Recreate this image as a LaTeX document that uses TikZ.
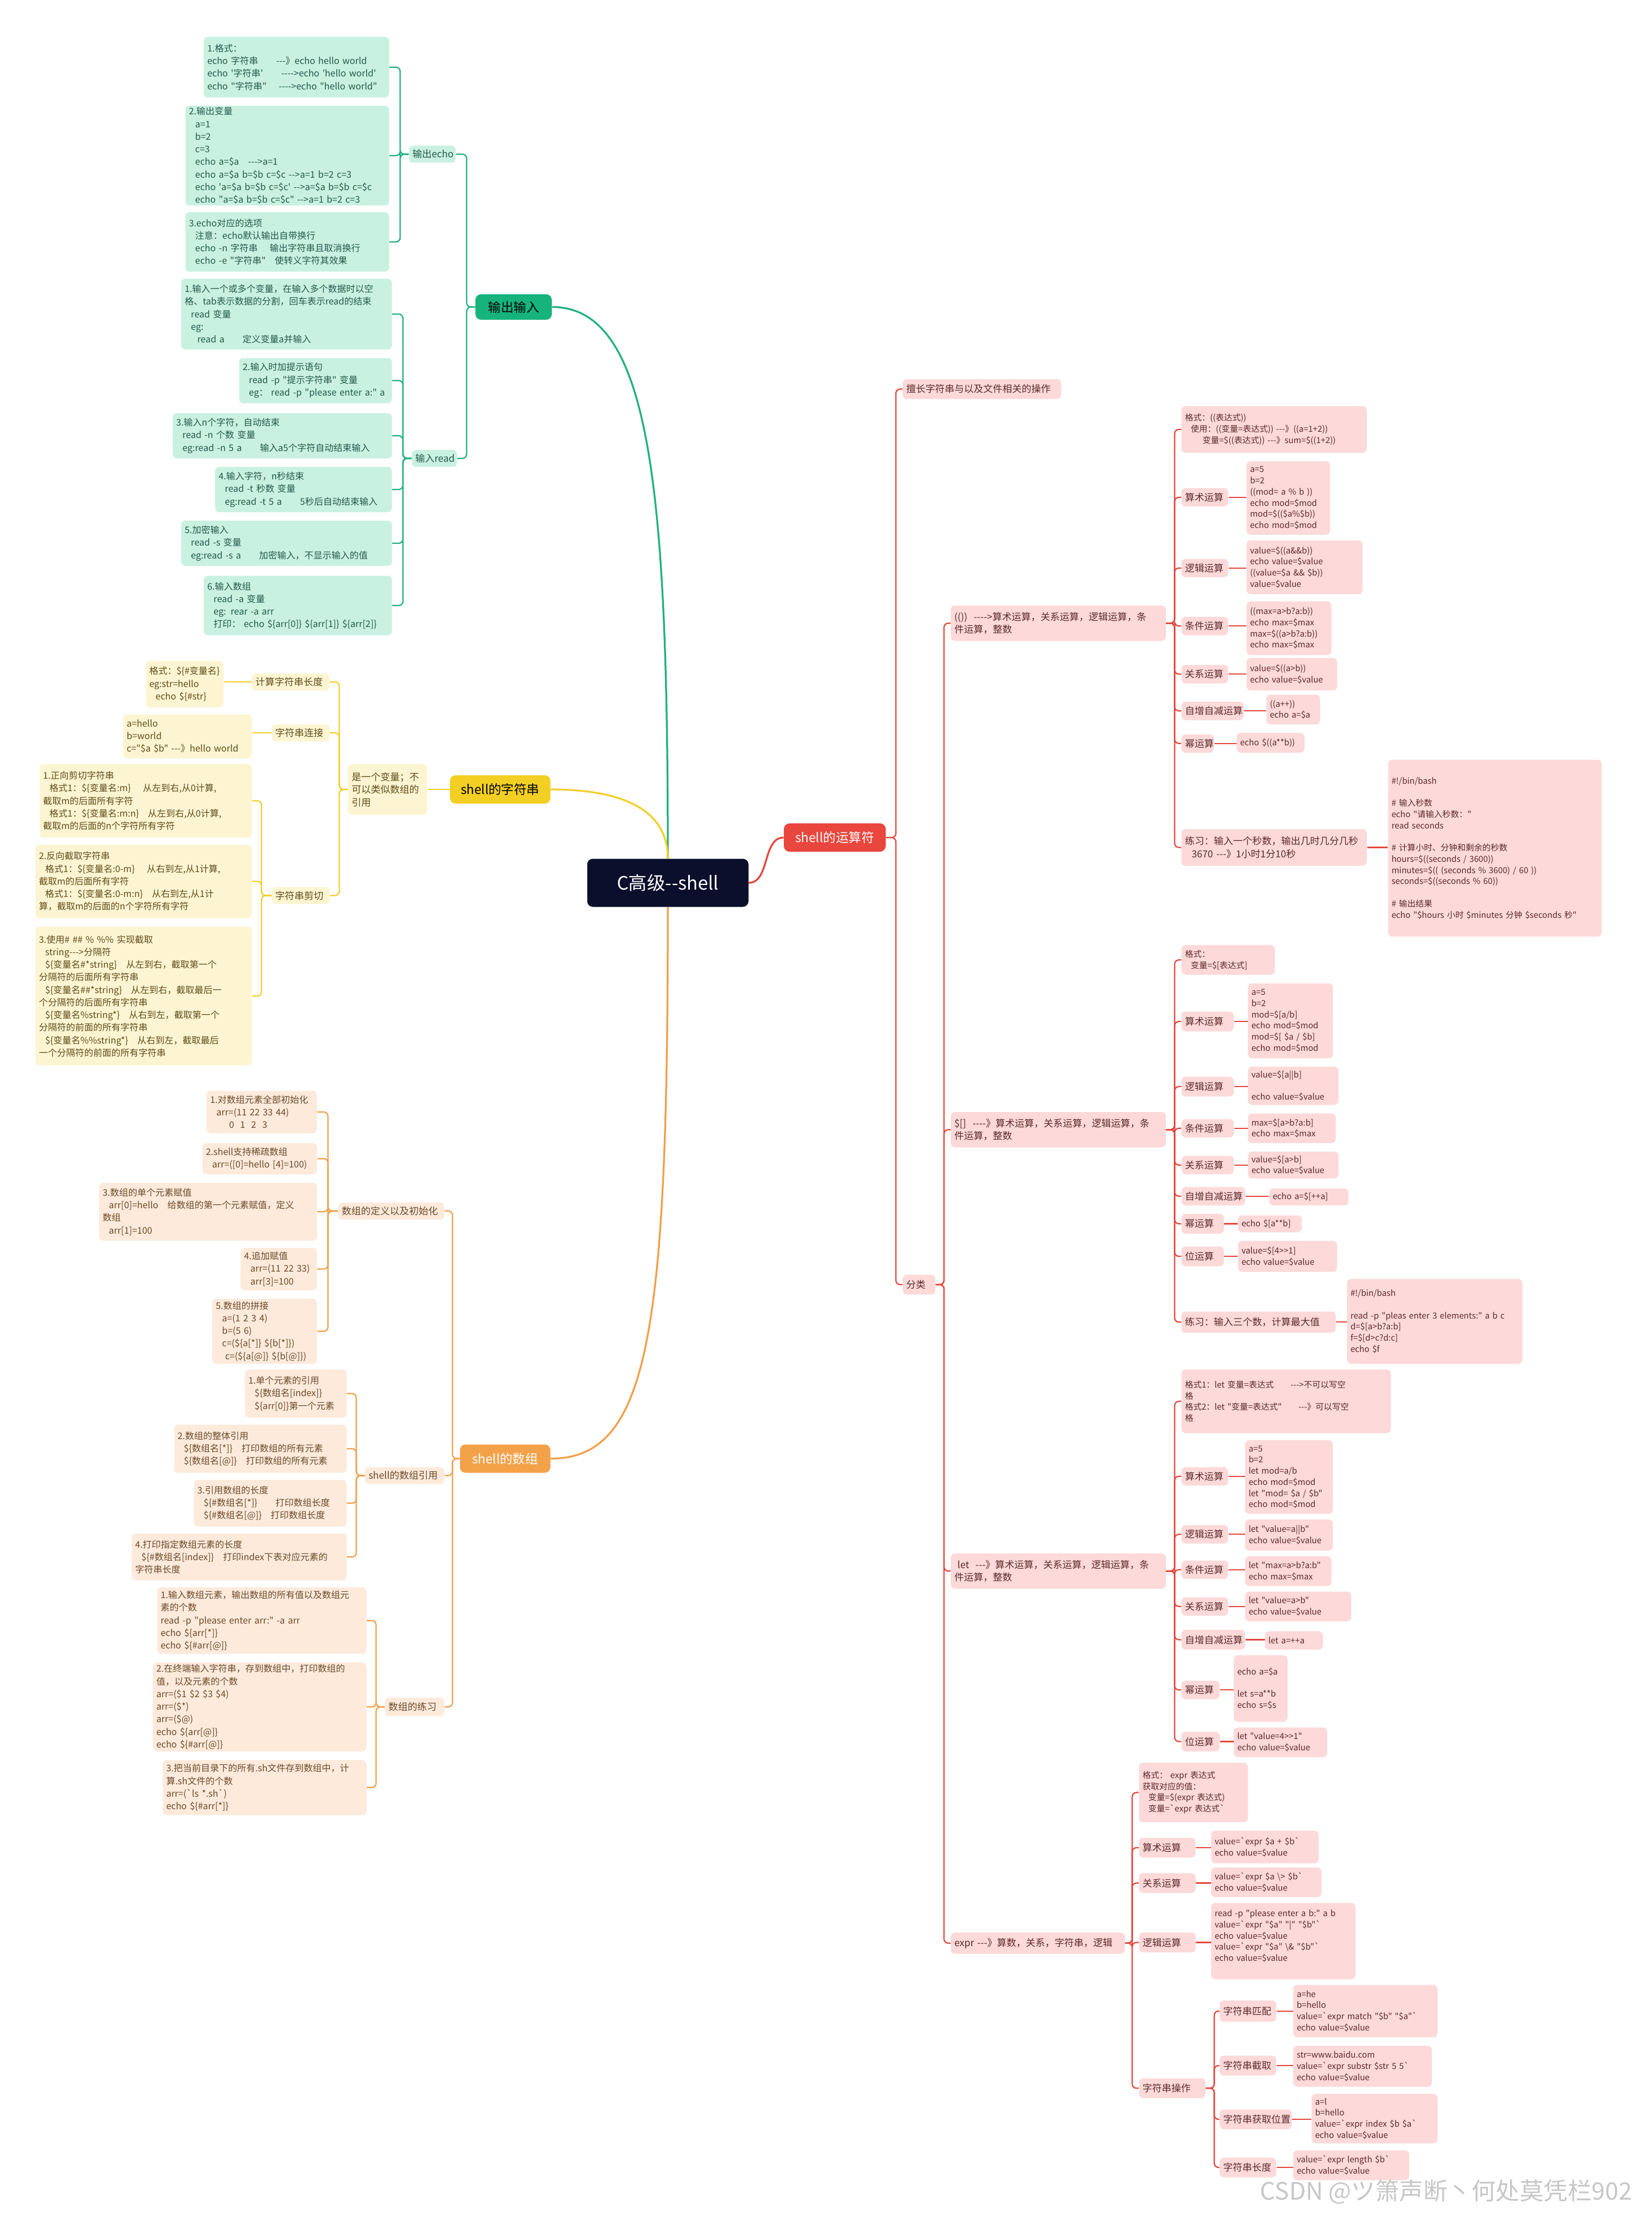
\documentclass[tikz,border=0pt]{standalone}
\usepackage{fontspec}
\setmainfont{Noto Sans CJK SC}[Ligatures=TeXOff]
\usetikzlibrary{calc}
\definecolor{Gl}{HTML}{22B07F}\definecolor{Gf}{HTML}{C9F1E2}\definecolor{Gm}{HTML}{16B47C}\definecolor{Gt}{HTML}{24584A}
\definecolor{Yl}{HTML}{F2CF2B}\definecolor{Yf}{HTML}{FDF5D2}\definecolor{Ym}{HTML}{F2CF22}\definecolor{Yt}{HTML}{5E4B1A}
\definecolor{Ol}{HTML}{F0A04B}\definecolor{Of}{HTML}{FDEADB}\definecolor{Om}{HTML}{F4A24A}\definecolor{Ot}{HTML}{6A4A2A}
\definecolor{Rl}{HTML}{E4483E}\definecolor{Rf}{HTML}{FDD9D9}\definecolor{Rm}{HTML}{E9463D}\definecolor{Rt}{HTML}{5A2A2A}
\definecolor{Cn}{HTML}{0B0F2B}
\newcommand\I{\hspace*{0.7em}}
\newcommand\bx[7]{\pgfmathsetmacro\bw{#4-#2-5}\node[#6, text width=\bw pt, minimum width={(#4-#2)*1pt}, minimum height={(#5-#3)*1pt}] (#1) at ({(#2+#4)/2},{(#3+#5)/2}) {#7};}
\tikzset{
 box/.style={rounded corners=3pt, inner xsep=2.5pt, inner ysep=1pt, align=left, font=\fontsize{6.4}{8.9}\selectfont},
 rbox/.style={box, font=\fontsize{5.9}{7.9}\selectfont},
 lab/.style={box, font=\fontsize{6.8}{9}\selectfont},
 G/.style={box, fill=Gf, text=Gt}, Y/.style={box, fill=Yf, text=Yt}, O/.style={box, fill=Of, text=Ot},
 R/.style={rbox, fill=Rf, text=Rt}, RL/.style={lab, fill=Rf, text=Rt},
 GL/.style={lab, fill=Gf, text=Gt}, YL/.style={lab, fill=Yf, text=Yt}, OL/.style={lab, fill=Of, text=Ot},
 main/.style={rounded corners=4pt, align=center, font=\fontsize{9}{10}\selectfont},
 gl/.style={draw=Gl, line width=0.9pt, rounded corners=3pt},
 yl/.style={draw=Yl, line width=0.9pt, rounded corners=3pt},
 ol/.style={draw=Ol, line width=0.9pt, rounded corners=3pt},
 rl/.style={draw=Rl, line width=0.9pt, rounded corners=3pt},
}
\begin{document}
\begin{tikzpicture}[x=1pt,y=-1pt]
\fill[white] (0,0) rectangle (1167.2,1581.2);
\useasboundingbox (0,0) rectangle (1167.2,1581.2);
% center and main
\node[main, fill=Cn, text=white, minimum width=114pt, minimum height=34pt, font=\fontsize{13}{14}\selectfont] (c) at (472,624) {C高级--shell};
\node[main, fill=Gm, text=black, minimum width=54pt, minimum height=18pt] (io) at (363,217) {输出输入};
\node[main, fill=Ym, text=black, minimum width=71pt, minimum height=20pt] (str) at (353.5,558) {shell的字符串};
\node[main, fill=Om, text=white, minimum width=64pt, minimum height=20pt] (arr) at (357,1031) {shell的数组};
\node[main, fill=Rm, text=white, minimum width=72pt, minimum height=20pt] (op) at (590,592) {shell的运算符};
\draw[draw=Gl,line width=1.3pt] (c.north) .. controls +(0,-260) and +(70,0) .. (io.east);
\draw[draw=Yl,line width=1.3pt] (c.north) .. controls +(0,-40) and +(40,0) .. (str.east);
\draw[draw=Ol,line width=1.3pt] (c.south) .. controls +(0,300) and +(70,0) .. (arr.east);
\draw[draw=Rl,line width=1.3pt] (c.east) .. controls +(15,0) and +(-15,0) .. (op.west);
% ---------- GREEN
\bx{echo}{289}{103}{322}{115}{GL}{输出echo}
\bx{read}{291}{318}{323}{330}{GL}{输入read}
\bx{e1}{144}{26}{275}{69}{G}{1.格式：\\echo 字符串\quad\quad ---》echo hello world\\echo '字符串'\quad\quad ---->echo 'hello world'\\echo "字符串"\quad\ ---->echo "hello world"}
\bx{e2}{131}{75}{275}{145}{G}{2.输出变量\\\I a=1\\\I b=2\\\I c=3\\\I echo a=\$a\quad --->a=1\\\I echo a=\$a b=\$b c=\$c -->a=1 b=2 c=3\\\I echo 'a=\$a b=\$b c=\$c' -->a=\$a b=\$b c=\$c\\\I echo "a=\$a b=\$b c=\$c" -->a=1 b=2 c=3}
\bx{e3}{131}{150}{275}{192}{G}{3.echo对应的选项\\\I 注意：echo默认输出自带换行\\\I echo -n 字符串\quad\ 输出字符串且取消换行\\\I echo -e "字符串"\quad 使转义字符其效果}
\bx{r1}{128}{197}{277}{247}{G}{1.输入一个或多个变量，在输入多个数据时以空\\格、tab表示数据的分割，回车表示read的结束\\\I read 变量\\\I eg:\\\I\I read a\qquad 定义变量a并输入}
\bx{r2}{169}{253}{277}{285}{G}{2.输入时加提示语句\\\I read -p "提示字符串" 变量\\\I eg：\ read -p "please enter a:" a}
\bx{r3}{122}{292}{277}{324}{G}{3.输入n个字符，自动结束\\\I read -n 个数 变量\\\I eg:read -n 5 a\qquad 输入a5个字符自动结束输入}
\bx{r4}{152}{330}{277}{362}{G}{4.输入字符，n秒结束\\\I read -t 秒数 变量\\\I eg:read -t 5 a\qquad 5秒后自动结束输入}
\bx{r5}{128}{368}{277}{400}{G}{5.加密输入\\\I read -s 变量\\\I eg:read -s a\qquad 加密输入，不显示输入的值}
\bx{r6}{144}{407}{277}{449}{G}{6.输入数组\\\I read -a 变量\\\I eg: rear -a arr\\\I 打印：\ echo \$\{arr[0]\} \$\{arr[1]\} \$\{arr[2]\}}
\foreach \n in {echo,read} \draw[gl] (io.west) -- +(-6,0) |- (\n.east);
\foreach \n in {e1,e2,e3} \draw[gl] (echo.west) -- +(-6,0) |- (\n.east);
\foreach \n in {r1,r2,r3,r4,r5,r6} \draw[gl] (read.west) -- +(-6,0) |- (\n.east);
% ---------- YELLOW
\bx{mid}{246}{540}{302}{576}{YL}{是一个变量；不\\可以类似数组的\\引用}
\bx{len}{178}{476}{233}{488}{YL}{计算字符串长度}
\bx{cat}{192}{512}{233}{524}{YL}{字符串连接}
\bx{cut}{192}{627}{233}{639}{YL}{字符串剪切}
\bx{s1}{103}{467}{158}{500}{Y}{格式：\$\{\#变量名\}\\eg:str=hello\\\I echo \$\{\#str\}}
\bx{s2}{87}{505}{178}{536}{Y}{a=hello\\b=world\\c="\$a \$b" ---》hello world}
\bx{c1}{28}{540}{178}{592}{Y}{1.正向剪切字符串\\\I 格式1：\$\{变量名:m\}\quad\ 从左到右,从0计算,\\截取m的后面所有字符\\\I 格式1：\$\{变量名:m:n\}\quad 从左到右,从0计算,\\截取m的后面的n个字符所有字符}
\bx{c2}{25}{597}{178}{649}{Y}{2.反向截取字符串\\\I 格式1：\$\{变量名:0-m\}\quad\ 从右到左,从1计算,\\截取m的后面所有字符\\\I 格式1：\$\{变量名:0-m:n\}\quad 从右到左,从1计\\算，截取m的后面的n个字符所有字符}
\bx{c3}{25}{655}{178}{753}{Y}{3.使用\# \#\# \% \%\% 实现截取\\\I string--->分隔符\\\I \$\{变量名\#*string\}\quad 从左到右，截取第一个\\分隔符的后面所有字符串\\\I \$\{变量名\#\#*string\}\quad 从左到右，截取最后一\\个分隔符的后面所有字符串\\\I \$\{变量名\%string*\}\quad 从右到左，截取第一个\\分隔符的前面的所有字符串\\\I \$\{变量名\%\%string*\}\quad 从右到左，截取最后\\一个分隔符的前面的所有字符串}
\draw[yl] (str.west) -- (mid.east);
\foreach \n in {len,cat,cut} \draw[yl] (mid.west) -- +(-6,0) |- (\n.east);
\draw[yl] (len.west) -- (len.west -| s1.east);
\draw[yl] (cat.west) -- (cat.west -| s2.east);
\foreach \n in {c1,c2,c3} \draw[yl] (cut.west) -- +(-7,0) |- (\n.east);
% ---------- ORANGE
\bx{def}{239}{850}{314}{862}{OL}{数组的定义以及初始化}
\bx{ref}{258}{1037}{314}{1049}{OL}{shell的数组引用}
\bx{prac}{272}{1200}{314}{1213}{OL}{数组的练习}
\bx{d1}{146}{771}{224}{801}{O}{1.对数组元素全部初始化\\\I arr=(11 22 33 44)\\\I\I\I 0\ \ 1\ \ 2\ \ 3}
\bx{d2}{143}{808}{224}{830}{O}{2.shell支持稀疏数组\\\I arr=([0]=hello [4]=100)}
\bx{d3}{70}{836}{224}{877}{O}{3.数组的单个元素赋值\\\I arr[0]=hello\quad 给数组的第一个元素赋值，定义\\数组\\\I arr[1]=100}
\bx{d4}{170}{882}{224}{912}{O}{4.追加赋值\\\I arr=(11 22 33)\\\I arr[3]=100}
\bx{d5}{150}{918}{224}{964}{O}{5.数组的拼接\\\I a=(1 2 3 4)\\\I b=(5 6)\\\I c=(\$\{a[*]\} \$\{b[*]\})\\\I\ c=(\$\{a[@]\} \$\{b[@]\})}
\bx{q1}{173}{968}{245}{1002}{O}{1.单个元素的引用\\\I \$\{数组名[index]\}\\\I \$\{arr[0]\}第一个元素}
\bx{q2}{123}{1007}{245}{1041}{O}{2.数组的整体引用\\\I \$\{数组名[*]\}\quad 打印数组的所有元素\\\I \$\{数组名[@]\}\quad 打印数组的所有元素}
\bx{q3}{137}{1046}{245}{1079}{O}{3.引用数组的长度\\\I \$\{\#数组名[*]\}\qquad 打印数组长度\\\I \$\{\#数组名[@]\}\quad 打印数组长度}
\bx{q4}{93}{1084}{245}{1117}{O}{4.打印指定数组元素的长度\\\I \$\{\#数组名[index]\}\quad 打印index下表对应元素的\\字符串长度}
\bx{p1}{111}{1122}{259}{1169}{O}{1.输入数组元素，输出数组的所有值以及数组元\\素的个数\\read -p "please enter arr:" -a arr\\echo \$\{arr[*]\}\\echo \$\{\#arr[@]\}}
\bx{p2}{108}{1175}{259}{1238}{O}{2.在终端输入字符串，存到数组中，打印数组的\\值，以及元素的个数\\arr=(\$1 \$2 \$3 \$4)\\arr=(\$*)\\arr=(\$@)\\echo \$\{arr[@]\}\\echo \$\{\#arr[@]\}}
\bx{p3}{115}{1244}{259}{1283}{O}{3.把当前目录下的所有.sh文件存到数组中，计\\算.sh文件的个数\\arr=(`ls *.sh`)\\echo \$\{\#arr[*]\}}
\foreach \n in {def,ref,prac} \draw[ol] (arr.west) -- +(-5,0) |- (\n.east);
\foreach \n in {d1,d2,d3,d4,d5} \draw[ol] (def.west) -- +(-7,0) |- (\n.east);
\foreach \n in {q1,q2,q3,q4} \draw[ol] (ref.west) -- +(-6,0) |- (\n.east);
\foreach \n in {p1,p2,p3} \draw[ol] (prac.west) -- +(-6,0) |- (\n.east);
% ---------- RED
\bx{good}{638}{268}{750}{282}{RL}{擅长字符串与以及文件相关的操作}
\bx{cls}{638}{901}{661}{915}{RL}{分类}
\bx{k1}{672}{428}{824}{453}{RL}{(())\ \ ---->算术运算，关系运算，逻辑运算，条\\件运算，整数}
\bx{k2}{672}{786}{824}{811}{RL}{\$[]\ \ ----》算术运算，关系运算，逻辑运算，条\\件运算，整数}
\bx{k3}{672}{1098}{824}{1123}{RL}{\ let\ \ ---》算术运算，关系运算，逻辑运算，条\\件运算，整数}
\bx{k4}{672}{1366}{795}{1381}{RL}{expr ---》算数，关系，字符串，逻辑}
\draw[rl] (op.east) -- +(7,0) |- (good.west);
\draw[rl] (op.east) -- +(7,0) |- (cls.west);
\foreach \n in {k1,k2,k3,k4} \draw[rl] (cls.east) -- +(6,0) |- (\n.west);
% k1
\bx{f1}{835}{287}{966}{320}{R}{格式：((表达式))\\\I 使用：((变量=表达式)) ---》((a=1+2))\\\I\I\I 变量=\$((表达式)) ---》sum=\$((1+2))}
\bx{a1l}{835}{345}{868}{358}{RL}{算术运算}
\bx{l1l}{835}{395}{868}{408}{RL}{逻辑运算}
\bx{t1l}{835}{436}{868}{449}{RL}{条件运算}
\bx{g1l}{835}{470}{868}{483}{RL}{关系运算}
\bx{z1l}{835}{496}{879}{509}{RL}{自增自减运算}
\bx{m1l}{835}{519}{858}{532}{RL}{幂运算}
\bx{x1l}{835}{586}{966}{612}{RL}{练习：输入一个秒数，输出几时几分几秒\\\I 3670 ---》1小时1分10秒}
\bx{a1}{881}{326}{940}{378}{R}{a=5\\b=2\\((mod= a \% b ))\\echo mod=\$mod\\mod=\$((\$a\%\$b))\\echo mod=\$mod}
\bx{l1}{881}{382}{963}{420}{R}{value=\$((a\&\&b))\\echo value=\$value\\((value=\$a \&\& \$b))\\value=\$value}
\bx{t1}{881}{425}{941}{463}{R}{((max=a>b?a:b))\\echo max=\$max\\max=\$((a>b?a:b))\\echo max=\$max}
\bx{g1}{881}{465}{945}{488}{R}{value=\$((a>b))\\echo value=\$value}
\bx{z1}{895}{491}{933}{512}{R}{((a++))\\echo a=\$a}
\bx{m1}{874}{518}{922}{532}{R}{echo \$((a**b))}
\bx{x1}{981}{537}{1132}{662}{R}{\#!/bin/bash\\\mbox{}\\\# 输入秒数\\echo "请输入秒数："\\read seconds\\\mbox{}\\\# 计算小时、分钟和剩余的秒数\\hours=\$((seconds / 3600))\\minutes=\$(( (seconds \% 3600) / 60 ))\\seconds=\$((seconds \% 60))\\\mbox{}\\\# 输出结果\\echo "\$hours 小时 \$minutes 分钟 \$seconds 秒"}
\foreach \n in {f1,a1l,l1l,t1l,g1l,z1l,m1l,x1l} \draw[rl] (k1.east) -- +(6,0) |- (\n.west);
\foreach \a/\b in {a1l/a1,l1l/l1,t1l/t1,g1l/g1,z1l/z1,m1l/m1,x1l/x1} \draw[rl] (\a.east) -- (\a.east -| \b.west);
% k2
\bx{f2}{835}{668}{901}{689}{R}{格式：\\\I 变量=\$[表达式]}
\bx{a2l}{835}{715}{872}{729}{RL}{算术运算}
\bx{l2l}{835}{761}{872}{775}{RL}{逻辑运算}
\bx{t2l}{835}{791}{872}{804}{RL}{条件运算}
\bx{g2l}{835}{817}{872}{830}{RL}{关系运算}
\bx{z2l}{835}{839}{880}{852}{RL}{自增自减运算}
\bx{m2l}{835}{858}{865}{872}{RL}{幂运算}
\bx{w2l}{835}{881}{865}{895}{RL}{位运算}
\bx{x2l}{835}{927}{944}{942}{RL}{练习：输入三个数，计算最大值}
\bx{a2}{882}{695}{942}{748}{R}{a=5\\b=2\\mod=\$[a/b]\\echo mod=\$mod\\mod=\$[ \$a / \$b]\\echo mod=\$mod}
\bx{l2}{882}{754}{946}{781}{R}{value=\$[a||b]\\\mbox{}\\echo value=\$value}
\bx{t2}{882}{787}{944}{808}{R}{max=\$[a>b?a:b]\\echo max=\$max}
\bx{g2}{882}{814}{946}{833}{R}{value=\$[a>b]\\echo value=\$value}
\bx{z2}{897}{840}{953}{852}{R}{echo a=\$[++a]}
\bx{m2}{875}{859}{920}{871}{R}{echo \$[a**b]}
\bx{w2}{875}{877}{945}{899}{R}{value=\$[4>>1]\\echo value=\$value}
\bx{x2}{952}{904}{1076}{964}{R}{\#!/bin/bash\\\mbox{}\\read -p "pleas enter 3 elements:" a b c\\d=\$[a>b?a:b]\\f=\$[d>c?d:c]\\echo \$f}
\foreach \n in {f2,a2l,l2l,t2l,g2l,z2l,m2l,w2l,x2l} \draw[rl] (k2.east) -- +(6,0) |- (\n.west);
\foreach \a/\b in {a2l/a2,l2l/l2,t2l/t2,g2l/g2,z2l/z2,m2l/m2,w2l/w2,x2l/x2} \draw[rl] (\a.east) -- (\a.east -| \b.west);
% k3
\bx{f3}{835}{968}{983}{1013}{R}{格式1：let 变量=表达式\qquad --->不可以写空\\格\\格式2：let "变量=表达式"\qquad ---》可以写空\\格}
\bx{a3l}{835}{1037}{868}{1050}{RL}{算术运算}
\bx{l3l}{835}{1078}{868}{1091}{RL}{逻辑运算}
\bx{t3l}{835}{1103}{868}{1116}{RL}{条件运算}
\bx{g3l}{835}{1129}{868}{1142}{RL}{关系运算}
\bx{z3l}{835}{1152}{880}{1166}{RL}{自增自减运算}
\bx{m3l}{835}{1188}{862}{1201}{RL}{幂运算}
\bx{w3l}{835}{1224}{862}{1238}{RL}{位运算}
\bx{a3}{880}{1018}{942}{1070}{R}{a=5\\b=2\\let mod=a/b\\echo mod=\$mod\\let "mod= \$a / \$b"\\echo mod=\$mod}
\bx{l3}{880}{1074}{942}{1096}{R}{let "value=a||b"\\echo value=\$value}
\bx{t3}{880}{1100}{941}{1121}{R}{let "max=a>b?a:b"\\echo max=\$max}
\bx{g3}{880}{1125}{955}{1146}{R}{let "value=a>b"\\echo value=\$value}
\bx{z3}{894}{1153}{935}{1166}{R}{let a=++a}
\bx{m3}{872}{1170}{910}{1217}{R}{echo a=\$a\\\mbox{}\\let s=a**b\\echo s=\$s}
\bx{w3}{872}{1221}{938}{1242}{R}{let "value=4>>1"\\echo value=\$value}
\foreach \n in {f3,a3l,l3l,t3l,g3l,z3l,m3l,w3l} \draw[rl] (k3.east) -- +(6,0) |- (\n.west);
\foreach \a/\b in {a3l/a3,l3l/l3,t3l/t3,g3l/g3,z3l/z3,m3l/m3,w3l/w3} \draw[rl] (\a.east) -- (\a.east -| \b.west);
% k4
\bx{f4}{805}{1246}{882}{1288}{R}{格式：\ expr 表达式\\获取对应的值：\\\I 变量=\$(expr 表达式)\\\I 变量=`expr 表达式`}
\bx{a4l}{805}{1299}{845}{1313}{RL}{算术运算}
\bx{g4l}{805}{1324}{845}{1338}{RL}{关系运算}
\bx{l4l}{805}{1366}{845}{1380}{RL}{逻辑运算}
\bx{sop}{805}{1469}{852}{1483}{RL}{字符串操作}
\bx{a4}{856}{1294}{932}{1317}{R}{value=`expr \$a + \$b`\\echo value=\$value}
\bx{g4}{856}{1320}{934}{1341}{R}{value=`expr \$a \textbackslash> \$b`\\echo value=\$value}
\bx{l4}{856}{1345}{958}{1399}{R}{read -p "please enter a b:" a b\\value=`expr "\$a" "|" "\$b"`\\echo value=\$value\\value=`expr "\$a" \textbackslash\& "\$b"`\\echo value=\$value\\\mbox{}}
\bx{sml}{862}{1414}{902}{1429}{RL}{字符串匹配}
\bx{scl}{862}{1453}{902}{1467}{RL}{字符串截取}
\bx{sil}{862}{1491}{913}{1505}{RL}{字符串获取位置}
\bx{sll}{862}{1525}{902}{1539}{RL}{字符串长度}
\bx{sm}{914}{1403}{1016}{1440}{R}{a=he\\b=hello\\value=`expr match "\$b" "\$a"`\\echo value=\$value}
\bx{sc}{914}{1446}{1012}{1475}{R}{str=www.baidu.com\\value=`expr substr \$str 5 5`\\echo value=\$value}
\bx{si}{927}{1480}{1016}{1515}{R}{a=l\\b=hello\\value=`expr index \$b \$a`\\echo value=\$value}
\bx{sl}{914}{1520}{996}{1541}{R}{value=`expr length \$b`\\echo value=\$value}
\foreach \n in {f4,a4l,g4l,l4l,sop} \draw[rl] (k4.east) -- +(5,0) |- (\n.west);
\foreach \a/\b in {a4l/a4,g4l/g4,l4l/l4} \draw[rl] (\a.east) -- (\a.east -| \b.west);
\foreach \n in {sml,scl,sil,sll} \draw[rl] (sop.east) -- +(6,0) |- (\n.west);
\foreach \a/\b in {sml/sm,scl/sc,sil/si,sll/sl} \draw[rl] (\a.east) -- (\a.east -| \b.west);
% watermark
\node[text=black!22, font=\fontsize{17}{18}\selectfont, anchor=east] (wm) at (1157,1549) {CSDN @ツ箫声断丶何处莫凭栏902};
\end{tikzpicture}
\end{document}
